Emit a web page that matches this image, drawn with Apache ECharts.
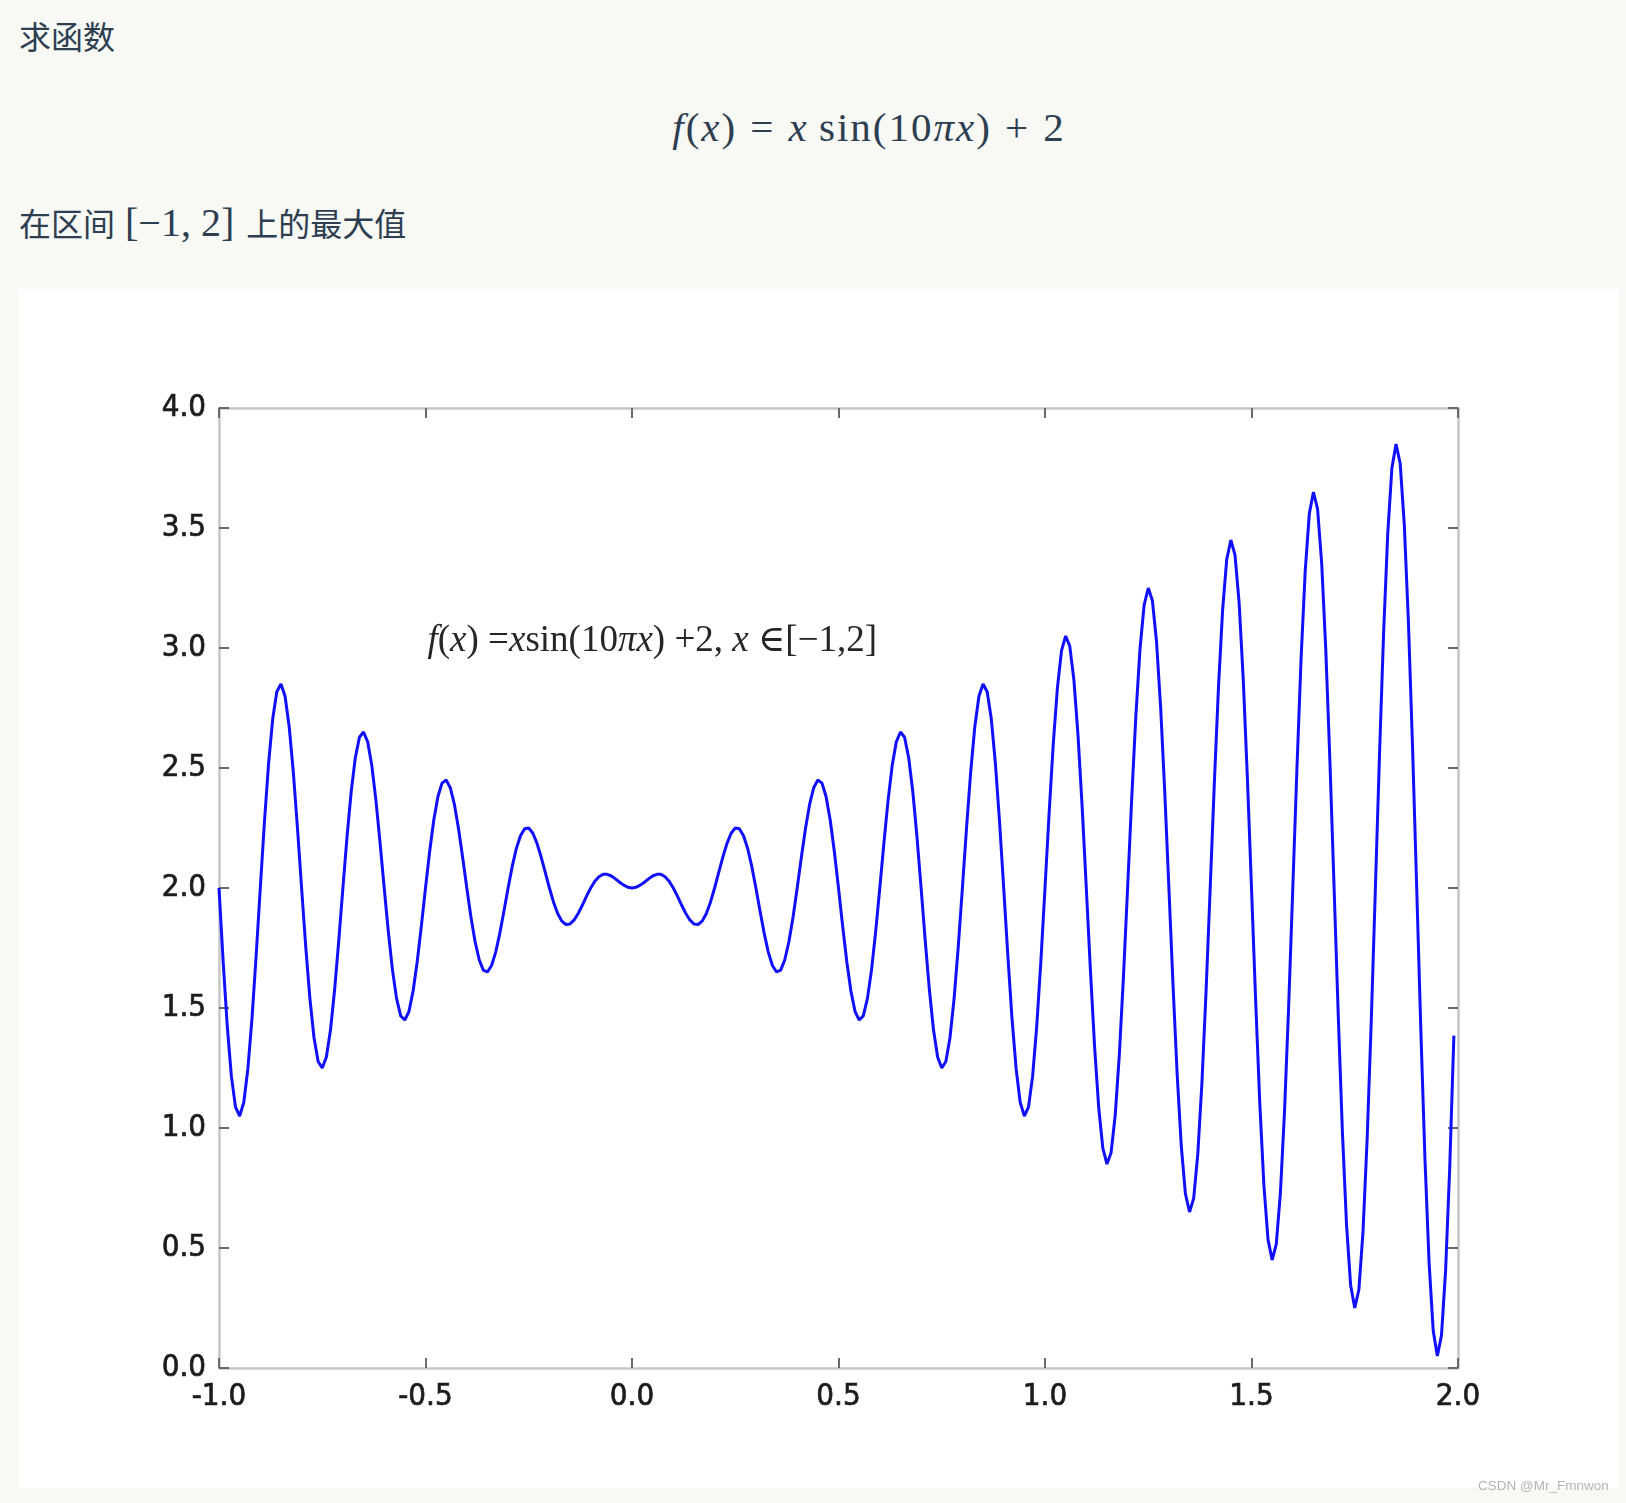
<!DOCTYPE html>
<html>
<head>
<meta charset="utf-8">
<script src="https://cdn.jsdelivr.net/npm/echarts@6/dist/echarts.min.js"></script>
<style>
  html, body { margin: 0; padding: 0; width: 1626px; height: 1503px; background: #f8f8f5; overflow: hidden; }
  .txt { position: absolute; font-family: "Noto Sans CJK SC", sans-serif; font-size: 32px; line-height: 32px; color: #2c3e50; white-space: nowrap; }
  .m { font-family: "Liberation Serif", "DejaVu Serif", serif; font-size: 40px; margin: 0 12px 0 10px; }
  .i { font-style: italic; }
  .op { margin: 0 0.32em; }
  #formula { position: absolute; left: 569px; width: 600px; top: 106px; text-align: center; font-family: "Liberation Serif", "DejaVu Serif", serif; font-size: 41px; line-height: 42px; letter-spacing: 2px; color: #2c3e50; white-space: nowrap; }
  #chart { position: absolute; left: 19px; top: 289px; width: 1600px; height: 1199px; background: #ffffff; }
  #wm { position: absolute; left: 1478px; top: 1478px; font-family: "Liberation Sans", Arial, sans-serif; font-size: 13.5px; color: #b4b4b4; white-space: nowrap; }
</style>
</head>
<body>
<div class="txt" style="left:19px; top:19px;">求函数</div>
<div id="formula"><span class="i">f</span>(<span class="i">x</span>)<span class="op">=</span><span class="i">x</span>&#8201;sin(10<span class="i">πx</span>)<span class="op">+</span>2</div>
<div class="txt" style="left:19px; top:206px;">在区间<span class="m">[−1, 2]</span>上的最大值</div>
<div id="chart"></div>
<div id="wm">CSDN @Mr_Fmnwon</div>
<script>
// sample positions of the plotted curve (x from -1 to 1.99, step 0.01)
var xs = [
-1,-0.99,-0.98,-0.97,-0.96,-0.95,-0.94,-0.93,-0.92,-0.91,-0.9,-0.89,-0.88,-0.87,-0.86,-0.85,-0.84,-0.83,-0.82,-0.81,
-0.8,-0.79,-0.78,-0.77,-0.76,-0.75,-0.74,-0.73,-0.72,-0.71,-0.7,-0.69,-0.68,-0.67,-0.66,-0.65,-0.64,-0.63,-0.62,-0.61,
-0.6,-0.59,-0.58,-0.57,-0.56,-0.55,-0.54,-0.53,-0.52,-0.51,-0.5,-0.49,-0.48,-0.47,-0.46,-0.45,-0.44,-0.43,-0.42,-0.41,
-0.4,-0.39,-0.38,-0.37,-0.36,-0.35,-0.34,-0.33,-0.32,-0.31,-0.3,-0.29,-0.28,-0.27,-0.26,-0.25,-0.24,-0.23,-0.22,-0.21,
-0.2,-0.19,-0.18,-0.17,-0.16,-0.15,-0.14,-0.13,-0.12,-0.11,-0.1,-0.09,-0.08,-0.07,-0.06,-0.05,-0.04,-0.03,-0.02,-0.01,
0,0.01,0.02,0.03,0.04,0.05,0.06,0.07,0.08,0.09,0.1,0.11,0.12,0.13,0.14,0.15,0.16,0.17,0.18,0.19,
0.2,0.21,0.22,0.23,0.24,0.25,0.26,0.27,0.28,0.29,0.3,0.31,0.32,0.33,0.34,0.35,0.36,0.37,0.38,0.39,
0.4,0.41,0.42,0.43,0.44,0.45,0.46,0.47,0.48,0.49,0.5,0.51,0.52,0.53,0.54,0.55,0.56,0.57,0.58,0.59,
0.6,0.61,0.62,0.63,0.64,0.65,0.66,0.67,0.68,0.69,0.7,0.71,0.72,0.73,0.74,0.75,0.76,0.77,0.78,0.79,
0.8,0.81,0.82,0.83,0.84,0.85,0.86,0.87,0.88,0.89,0.9,0.91,0.92,0.93,0.94,0.95,0.96,0.97,0.98,0.99,
1,1.01,1.02,1.03,1.04,1.05,1.06,1.07,1.08,1.09,1.1,1.11,1.12,1.13,1.14,1.15,1.16,1.17,1.18,1.19,
1.2,1.21,1.22,1.23,1.24,1.25,1.26,1.27,1.28,1.29,1.3,1.31,1.32,1.33,1.34,1.35,1.36,1.37,1.38,1.39,
1.4,1.41,1.42,1.43,1.44,1.45,1.46,1.47,1.48,1.49,1.5,1.51,1.52,1.53,1.54,1.55,1.56,1.57,1.58,1.59,
1.6,1.61,1.62,1.63,1.64,1.65,1.66,1.67,1.68,1.69,1.7,1.71,1.72,1.73,1.74,1.75,1.76,1.77,1.78,1.79,
1.8,1.81,1.82,1.83,1.84,1.85,1.86,1.87,1.88,1.89,1.9,1.91,1.92,1.93,1.94,1.95,1.96,1.97,1.98,1.99
];
// curve values
var ys = [
2,1.694,1.424,1.215,1.087,1.05,1.106,1.248,1.459,1.719,2,2.275,2.517,2.704,2.818,2.85,2.799,2.671,2.482,2.25,
2,1.756,1.541,1.377,1.277,1.25,1.296,1.409,1.577,1.781,2,2.213,2.4,2.542,2.628,2.65,2.609,2.51,2.365,2.188,
2,1.818,1.659,1.539,1.467,1.45,1.486,1.571,1.694,1.842,2,2.151,2.282,2.38,2.437,2.45,2.418,2.348,2.247,2.127,
2,1.879,1.777,1.701,1.658,1.65,1.677,1.733,1.812,1.904,2,2.09,2.165,2.218,2.247,2.25,2.228,2.186,2.129,2.065,
2,1.941,1.894,1.862,1.848,1.85,1.867,1.895,1.929,1.966,2,2.028,2.047,2.057,2.057,2.05,2.038,2.024,2.012,2.003,
2,2.003,2.012,2.024,2.038,2.05,2.057,2.057,2.047,2.028,2,1.966,1.929,1.895,1.867,1.85,1.848,1.862,1.894,1.941,
2,2.065,2.129,2.186,2.228,2.25,2.247,2.218,2.165,2.09,2,1.904,1.812,1.733,1.677,1.65,1.658,1.701,1.777,1.879,
2,2.127,2.247,2.348,2.418,2.45,2.437,2.38,2.282,2.151,2,1.842,1.694,1.571,1.486,1.45,1.467,1.539,1.659,1.818,
2,2.188,2.365,2.51,2.609,2.65,2.628,2.542,2.4,2.213,2,1.781,1.577,1.409,1.296,1.25,1.277,1.377,1.541,1.756,
2,2.25,2.482,2.671,2.799,2.85,2.818,2.704,2.517,2.275,2,1.719,1.459,1.248,1.106,1.05,1.087,1.215,1.424,1.694,
2,2.312,2.6,2.833,2.989,3.05,3.008,2.866,2.635,2.337,2,1.657,1.341,1.086,0.916,0.85,0.897,1.053,1.306,1.632,
2,2.374,2.717,2.995,3.179,3.25,3.198,3.027,2.753,2.399,2,1.595,1.224,0.924,0.726,0.65,0.707,0.892,1.189,1.57,
2,2.436,2.835,3.157,3.369,3.45,3.388,3.189,2.87,2.46,2,1.533,1.106,0.762,0.535,0.45,0.516,0.73,1.071,1.509,
2,2.497,2.953,3.319,3.56,3.65,3.579,3.351,2.988,2.522,2,1.472,0.989,0.6,0.345,0.25,0.326,0.568,0.953,1.447,
2,2.559,3.07,3.48,3.75,3.85,3.769,3.513,3.105,2.584,2,1.41,0.871,0.439,0.155,0.05,0.136,0.406,0.836,1.385
];
var xRange = [-1, 2];
var yRange = [0, 4];
var xTickStep = 0.5;
var yTickStep = 0.5;
var annotationAt = [-0.5, 3.0];

var points = xs.map(function (x, i) { return [x, ys[i]]; });

var labelFont = '"DejaVu Sans Condensed", "DejaVu Sans", sans-serif';
function axisCommon(pos, showLabel, isX) {
  return {
    type: 'value',
    position: pos,
    min: isX ? xRange[0] : yRange[0],
    max: isX ? xRange[1] : yRange[1],
    interval: isX ? xTickStep : yTickStep,
    axisLine: { show: true, onZero: false, lineStyle: { color: '#c6c6c6', width: 2.5 } },
    axisTick: { show: true, inside: true, length: 10, lineStyle: { color: '#6a6a6a', width: 2 } },
    axisLabel: {
      show: showLabel, margin: 13, fontFamily: labelFont, fontSize: 31, color: '#1c1c1c',
      textBorderColor: '#1c1c1c', textBorderWidth: 0.7,
      showMinLabel: true, showMaxLabel: true, hideOverlap: false,
      formatter: function (v) { return v.toFixed(1); }
    },
    splitLine: { show: false }
  };
}

var chart = echarts.init(document.getElementById('chart'), null, { renderer: 'canvas' });
chart.setOption({
  animation: false,
  backgroundColor: '#ffffff',
  grid: { left: 200, top: 119, width: 1239, height: 960, containLabel: false },
  xAxis: [axisCommon('bottom', true, true), axisCommon('top', false, true)],
  yAxis: [axisCommon('left', true, false), axisCommon('right', false, false)],
  series: [{
    type: 'line',
    xAxisIndex: 0, yAxisIndex: 0,
    data: points,
    showSymbol: false,
    symbol: 'none',
    lineStyle: { color: '#1010ff', width: 3 },
    z: 3
  }]
});

var p = chart.convertToPixel({ xAxisIndex: 0, yAxisIndex: 0 }, annotationAt);
var serif = '"Liberation Serif", "DejaVu Serif", serif';
chart.setOption({
  graphic: [{
    type: 'text',
    x: p[0] + 2,
    y: p[1] - 7,
    style: {
      text: '{i|f}{n|(}{i|x}{n|) =}{i|x}{n|sin(10}{i|πx}{n|) +2, }{i|x}{n| ∈[−1,2]}',
      verticalAlign: 'middle',
      align: 'left',
      font: '37px ' + serif,
      fill: '#262626',
      rich: {
        i: { fontFamily: serif, fontSize: 37, fontStyle: 'italic', color: '#262626' },
        n: { fontFamily: serif, fontSize: 37, color: '#262626' }
      }
    },
    z: 10
  }]
});
</script>
</body>
</html>
